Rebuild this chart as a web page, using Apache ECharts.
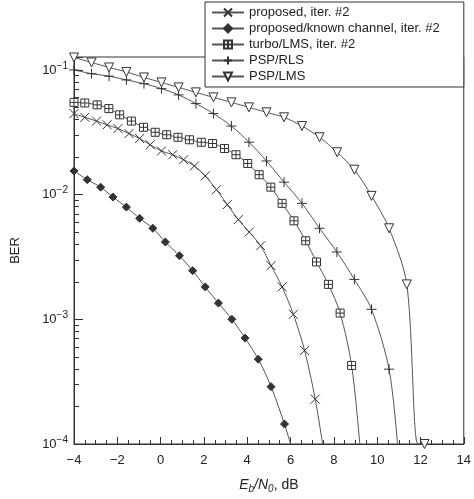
<!DOCTYPE html><html><head><meta charset="utf-8"><script src="https://cdn.jsdelivr.net/npm/echarts@6/dist/echarts.min.js"></script>
<style>html,body{margin:0;padding:0;background:#fff}#c{width:474px;height:499px}</style></head><body><div id="c"></div><script>
// x values (dB) and BER exponents (log10)
const names=['proposed, iter. #2','proposed/known channel, iter. #2','turbo/LMS, iter. #2','PSP/RLS','PSP/LMS'];
const propX=[-4,-3.5,-2.96,-2.47,-1.97,-1.46,-0.97,-0.48,0.04,0.56,1.06,1.56,2.06,2.58,3.08,3.59,4.09,4.62,5.10,5.61,6.13,6.65,7.14,7.48];
const propE=[-1.35,-1.38,-1.41,-1.44,-1.47,-1.51,-1.55,-1.60,-1.65,-1.68,-1.72,-1.77,-1.85,-1.96,-2.08,-2.20,-2.30,-2.41,-2.57,-2.74,-2.96,-3.25,-3.64,-4];
const knownX=[-4,-3.39,-2.77,-2.20,-1.58,-0.97,-0.36,0.22,0.87,1.48,2.06,2.67,3.29,3.90,4.51,5.10,5.72,6.0];
const knownE=[-1.81,-1.88,-1.94,-2.02,-2.10,-2.19,-2.27,-2.38,-2.49,-2.61,-2.74,-2.87,-3.00,-3.15,-3.32,-3.54,-3.84,-4];
const turboX=[-4,-3.5,-2.93,-2.39,-1.89,-1.35,-0.79,-0.25,0.28,0.80,1.33,1.88,2.40,2.95,3.48,4.02,4.55,5.09,5.61,6.16,6.70,7.20,7.75,8.29,8.82,9.20];
const turboE=[-1.26,-1.265,-1.28,-1.31,-1.36,-1.41,-1.46,-1.50,-1.52,-1.54,-1.56,-1.58,-1.59,-1.63,-1.68,-1.75,-1.84,-1.94,-2.07,-2.21,-2.37,-2.54,-2.72,-2.95,-3.37,-4];
const rlsX=[-4,-3.19,-2.38,-1.58,-0.77,0.04,0.83,1.63,2.44,3.27,4.08,4.89,5.70,6.53,7.34,8.14,8.95,9.74,10.55,10.94];
const rlsE=[-1.0,-1.03,-1.05,-1.08,-1.11,-1.15,-1.20,-1.27,-1.35,-1.45,-1.58,-1.73,-1.90,-2.07,-2.27,-2.46,-2.68,-2.92,-3.40,-4];
const lmsX=[-4,-3.19,-2.38,-1.58,-0.77,0.04,0.83,1.63,2.44,3.27,4.08,4.89,5.70,6.53,7.34,8.15,8.95,9.74,10.55,11.37,11.88,12.19];
const lmsE=[-0.90,-0.94,-0.98,-1.016,-1.06,-1.10,-1.14,-1.18,-1.22,-1.26,-1.30,-1.34,-1.38,-1.45,-1.54,-1.66,-1.80,-2.01,-2.27,-2.72,-4,-4];
const xTicks=[-4,-2,0,2,4,6,8,10,12,14];
const yTicks=[-4,-3,-2,-1];
function pts(xs,es,noSym){return xs.map((x,i)=>{const p={value:[x,Math.pow(10,es[i])]};if(noSym.includes(i))p.symbol='none';return p;});}
const C='#555';
const syms=['path://M0,0L10,10M10,0L0,10','diamond','path://M0,0H10V10H0ZM5,0V10M0,5H10','path://M5,0L5,10M0,5L10,5','path://M0,0L10,0L5,9Z'];
const fills=['none','#333','#fff','none','#fff'];
const sizes=[9,8,8,10,9];
const datas=[pts(propX,propE,[propX.length-1]),pts(knownX,knownE,[knownX.length-1]),pts(turboX,turboE,[turboX.length-1]),pts(rlsX,rlsE,[rlsX.length-1]),pts(lmsX,lmsE,[lmsX.length-2])];
const series=names.map((n,i)=>({name:n,type:'line',data:datas[i],smooth:0.3,symbol:syms[i],symbolSize:sizes[i],showAllSymbol:true,
 lineStyle:{color:C,width:1},itemStyle:{color:fills[i],borderColor:'#333',borderWidth:1},z:2}));
const ch=echarts.init(document.getElementById('c'));
const ff='Liberation Sans';
ch.setOption({animation:false,backgroundColor:'#fff',
 grid:{left:74,right:8,top:57,bottom:52,show:true,borderColor:'#333',borderWidth:1,backgroundColor:'transparent'},
 legend:{orient:'vertical',left:205,top:2,width:257,padding:[4,24,4,6],itemGap:3,itemWidth:32,itemHeight:10,backgroundColor:'#fff',borderColor:'#333',borderWidth:1,
  textStyle:{fontFamily:ff,fontSize:13,color:'#222'},data:names,z:10},
 xAxis:{type:'value',min:-4,max:14,interval:2,axisLine:{onZero:false,lineStyle:{color:'#333'}},axisTick:{inside:true,length:7,lineStyle:{color:'#333'}},
  minorTick:{show:true,splitNumber:4,length:4,lineStyle:{color:'#333'}},splitLine:{show:false},
  axisLabel:{fontFamily:ff,fontSize:13,color:'#222',margin:10,formatter:v=>xTicks.includes(v)?String(v).replace('-','−'):''},
  name:'{i|E}{is|b}{i|/N}{is|0}{n|, dB}',nameLocation:'middle',nameGap:32,
  nameTextStyle:{rich:{i:{fontStyle:'italic',fontSize:14,fontFamily:ff,color:'#222'},is:{fontStyle:'italic',fontSize:10,verticalAlign:'bottom',padding:[8,0,0,0],fontFamily:ff,color:'#222'},n:{fontSize:14,fontFamily:ff,color:'#222'}}}},
 yAxis:{type:'log',logBase:10,min:1e-4,max:0.127,interval:1,axisLine:{onZero:false,lineStyle:{color:'#333'}},axisTick:{inside:true,length:9,lineStyle:{color:'#333'}},
  minorTick:{show:true,splitNumber:9,length:5,lineStyle:{color:'#333'}},splitLine:{show:false},showMaxLabel:false,
  axisLabel:{fontFamily:ff,color:'#222',margin:6,formatter:v=>{const e=Math.round(Math.log10(v));if(!yTicks.includes(e)||Math.abs(Math.log10(v)-e)>0.01)return '';return '{b|10}{s|−'+(-e)+'}';},
   rich:{b:{fontSize:13,fontFamily:ff,color:'#222'},s:{fontSize:10,fontFamily:ff,color:'#222',verticalAlign:'top',padding:[0,0,8,0]}}},
  name:'BER',nameLocation:'middle',nameGap:52,nameRotate:90,nameTextStyle:{fontFamily:ff,fontSize:13,color:'#222'}},
 series});
</script></body></html>
